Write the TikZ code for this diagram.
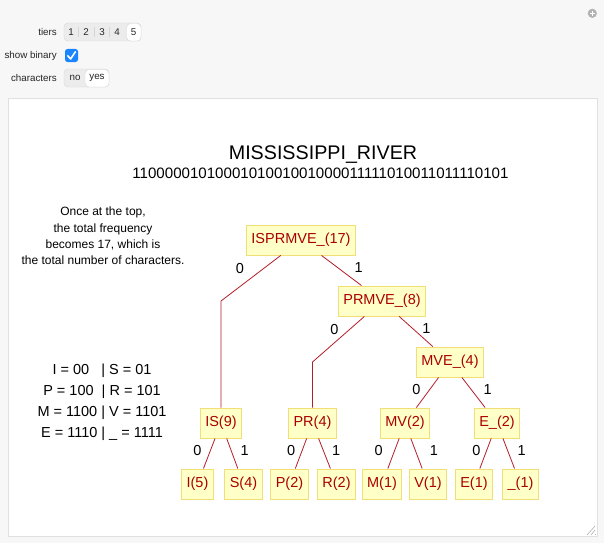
\documentclass[tikz,border=0pt]{standalone}
\usepackage{fontspec}
\setmainfont{Liberation Sans}
\usetikzlibrary{positioning}
\definecolor{boxfill}{RGB}{255,255,200}
\definecolor{boxline}{RGB}{241,222,118}
\definecolor{boxtext}{RGB}{170,0,0}
\definecolor{branchred}{RGB}{180,30,40}
\definecolor{panelgray}{RGB}{247,247,247}
\definecolor{framegray}{RGB}{224,224,224}
\definecolor{btngray}{RGB}{236,236,236}
\definecolor{btnline}{RGB}{214,214,214}
\definecolor{tickblue}{RGB}{27,132,255}

\begin{document}
\begin{tikzpicture}[x=1pt,y=-1pt,on grid,node distance=61pt,
  tree/.style={draw=boxline,fill=boxfill,text=boxtext,line width=0.9pt,
    inner xsep=5pt,minimum height=30pt,font=\fontsize{14.5}{17}\selectfont},
  bit/.style={font=\fontsize{14.5}{17}\selectfont,inner sep=0pt,yshift=2.5pt},
  branch/.style={draw=branchred,line width=0.8pt},
  ctl/.style={font=\fontsize{9.8}{11}\selectfont,text=black!85,inner sep=0pt},
  seg/.style={draw=btnline,rounded corners=4pt}]
\useasboundingbox (0,0) rectangle (604,543);

% panel and controls
\fill[panelgray] (0,0) rectangle (604,543);
\draw[framegray,fill=white] (8,98) rectangle (597,536);
\fill[black!30] (592.3,13.3) circle (4.6pt);
\draw[white,line width=1.2pt] (589.6,13.3) -- (595,13.3) (592.3,10.6) -- (592.3,16);
\foreach \k in {0,4,8}
  \draw[black!30,line width=0.6pt] (595-\k,535) -- (595,535-\k-1);

\node[ctl,anchor=east] (tiers) at (57,32) {tiers};
\draw[seg,fill=btngray] (64,23) rectangle (141,41);
\foreach \x in {78.5,94,109.5}
  \draw[btnline] (\x,27) -- (\x,37);
\draw[seg,fill=white] (126.5,23.5) rectangle (141,41);
\foreach \d/\x in {1/71,2/86,3/102,4/117,5/133.5}
  \node[ctl] (tier\d) at (\x,32) {\d};

\node[ctl,anchor=east] (binary) at (57,56) {show binary};
\fill[tickblue,rounded corners=2.5pt] (65,49) rectangle (78,62);
\draw[white,line width=1.6pt,line cap=round,line join=round]
  (67.8,55.8) -- (70.6,59) -- (75.4,51.8);

\node[ctl,anchor=east] (chars) at (57,78) {characters};
\draw[seg,fill=btngray] (64,69) rectangle (109,87);
\draw[seg,fill=white] (85,69.5) rectangle (109,87);
\node[ctl] (no) at (75,78) {no};
\node[ctl] (yes) at (97,78) {yes};

% texts
\node[font=\fontsize{19.7}{22}\selectfont,anchor=base] (title) at (323,159) {MISSISSIPPI\_RIVER};
\node[font=\fontsize{15.1}{17}\selectfont,anchor=base] (code) at (320.5,178)
  {1100000101000101001001000011111010011011110101};
\node[align=center,font=\fontsize{12}{16.3}\selectfont] (note) at (103,236)
  {Once at the top,\\ the total frequency\\ becomes 17, which is\\ the total number of characters.};
\node[align=center,font=\fontsize{14.5}{21}\selectfont] (table) at (102,402)
  {I = 00~~~| S = 01\\ P = 100~~| R = 101\\ M = 1100 | V = 1101\\ E = 1110 | \_ = 1111};

% tree
\node[tree] (root) at (301,240) {ISPRMVE\_(17)};
\node[tree] (prmve) [below right=61pt and 81pt of root] {PRMVE\_(8)};
\node[tree] (mve) [below right=61pt and 68pt of prmve] {MVE\_(4)};
\node[tree] (is) [below left=183pt and 80pt of root] {IS(9)};
\node[tree] (pr) [below left=122pt and 69.5pt of prmve] {PR(4)};
\node[tree] (mv) [below left=61pt and 45pt of mve] {MV(2)};
\node[tree] (e2) [below right=61pt and 47pt of mve] {E\_(2)};

\node[tree] (i) [below left=61pt and 23.5pt of is] {I(5)};
\node[tree] (s) [below right=61pt and 22.5pt of is] {S(4)};
\node[tree] (p) [below left=61pt and 23pt of pr] {P(2)};
\node[tree] (r) [below right=61pt and 24pt of pr] {R(2)};
\node[tree] (m) [below left=61pt and 23pt of mv] {M(1)};
\node[tree] (v) [below right=61pt and 23pt of mv] {V(1)};
\node[tree] (e) [below left=61pt and 23pt of e2] {E(1)};
\node[tree] (u) [below right=61pt and 23.5pt of e2] {\_(1)};

\coordinate (bend1) at (is |- prmve);
\coordinate (bend2) at (pr |- mve);

\draw[branch] (root) -- node[bit,pos=.34,left=16pt] {0} (bend1) -- (is);
\draw[branch] (prmve) -- node[bit,pos=.34,left=8pt] {0} (bend2) -- (pr);
\path[branch]
(root) edge node[bit,right=12.6pt] {1} (prmve)
(prmve) edge node[bit,right=6pt] {1} (mve)
(mve) edge node[bit,left=6.6pt] {0} (mv)
      edge node[bit,right=9.6pt] {1} (e2)
(is) edge node[bit,left=7.4pt] {0} (i)
     edge node[bit,right=7.9pt] {1} (s)
(pr) edge node[bit,left=5.4pt] {0} (p)
     edge node[bit,right=7.3pt] {1} (r)
(mv) edge node[bit,left=10.3pt] {0} (m)
     edge node[bit,right=12.9pt] {1} (v)
(e2) edge node[bit,left=4.7pt] {0} (e)
     edge node[bit,right=8.4pt] {1} (u);
\end{tikzpicture}
\end{document}
